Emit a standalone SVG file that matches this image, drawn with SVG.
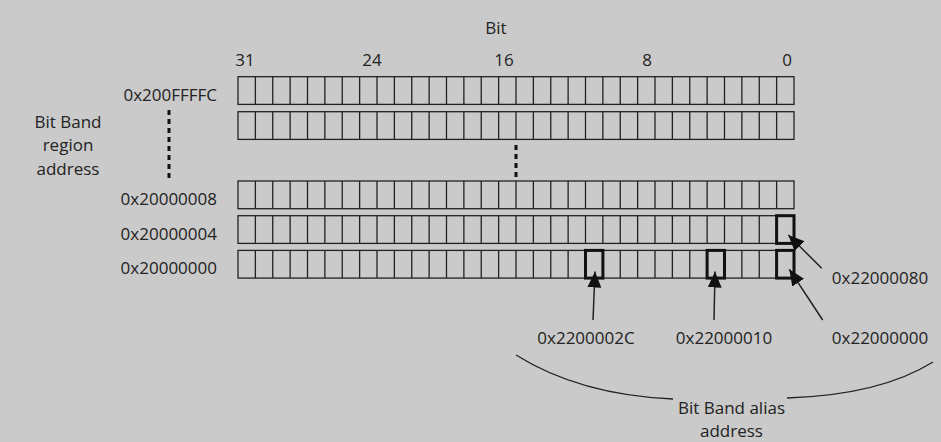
<svg xmlns="http://www.w3.org/2000/svg" xmlns:xlink="http://www.w3.org/1999/xlink" width="941" height="442" viewBox="0 0 941 442">
<style>
text{font-family:"Open Sans","Liberation Sans",sans-serif;font-size:17px;fill:#222}
.cell{fill:none;stroke:#222;stroke-width:1.3}
.hl{fill:none;stroke:#111;stroke-width:3}
.dots{stroke:#111;stroke-width:3;stroke-dasharray:5 4;fill:none}
.arr{stroke:#222;stroke-width:1.5;fill:none;marker-end:url(#ah)}
.brace{stroke:#222;stroke-width:1.3;fill:none}
</style>
<defs>
<marker id="ah" markerUnits="userSpaceOnUse" markerWidth="17" markerHeight="15" refX="16" refY="7" orient="auto">
<path d="M0,0 L16,7 L0,14 z" fill="#111"/>
</marker>
<g id="row">
<rect class="cell" x="0" y="0" width="556" height="27.7"/>
<path class="cell" d="M17.375,0v27.7M34.75,0v27.7M52.125,0v27.7M69.5,0v27.7M86.875,0v27.7M104.25,0v27.7M121.625,0v27.7M139,0v27.7M156.375,0v27.7M173.75,0v27.7M191.125,0v27.7M208.5,0v27.7M225.875,0v27.7M243.25,0v27.7M260.625,0v27.7M278,0v27.7M295.375,0v27.7M312.75,0v27.7M330.125,0v27.7M347.5,0v27.7M364.875,0v27.7M382.25,0v27.7M399.625,0v27.7M417,0v27.7M434.375,0v27.7M451.75,0v27.7M469.125,0v27.7M486.5,0v27.7M503.875,0v27.7M521.25,0v27.7M538.625,0v27.7"/>
</g>
</defs>
<rect x="0" y="0" width="941" height="442" fill="#cacaca"/>

<g id="bit-axis">
<text x="496" y="34" text-anchor="middle">Bit</text>
<text x="245" y="66" text-anchor="middle">31</text>
<text x="372" y="66" text-anchor="middle">24</text>
<text x="504" y="66" text-anchor="middle">16</text>
<text x="647" y="66" text-anchor="middle">8</text>
<text x="787" y="66" text-anchor="middle">0</text>
</g>

<g id="region-label">
<text x="68" y="128" text-anchor="middle">Bit Band</text>
<text x="68" y="151" text-anchor="middle">region</text>
<text x="68" y="175" text-anchor="middle">address</text>
<path class="dots" d="M169,110 V178"/>
<path class="dots" d="M516,145 V177"/>
</g>

<g id="row-200FFFFC">
<text x="217" y="100.5" text-anchor="end">0x200FFFFC</text>
<use xlink:href="#row" x="238" y="76.7"/>
</g>
<g id="row-200FFFF8">
<use xlink:href="#row" x="238" y="111.7"/>
</g>
<g id="row-20000008">
<text x="217" y="205" text-anchor="end">0x20000008</text>
<use xlink:href="#row" x="238" y="181"/>
</g>
<g id="row-20000004">
<text x="217" y="239.5" text-anchor="end">0x20000004</text>
<use xlink:href="#row" x="238" y="215.7"/>
<rect class="hl" x="776.6" y="215.7" width="17.4" height="27.7"/>
</g>
<g id="row-20000000">
<text x="217" y="273.5" text-anchor="end">0x20000000</text>
<use xlink:href="#row" x="238" y="250.4"/>
<rect class="hl" x="585.5" y="250.4" width="17.4" height="27.7"/>
<rect class="hl" x="707.1" y="250.4" width="17.4" height="27.7"/>
<rect class="hl" x="776.6" y="250.4" width="17.4" height="27.7"/>
</g>

<g id="alias-labels">
<text x="880" y="284" text-anchor="middle">0x22000080</text>
<text x="586" y="343.5" text-anchor="middle">0x2200002C</text>
<text x="724" y="343.5" text-anchor="middle">0x22000010</text>
<text x="880" y="343.5" text-anchor="middle">0x22000000</text>
<text x="731.5" y="414" text-anchor="middle">Bit Band alias</text>
<text x="731.5" y="437" text-anchor="middle">address</text>
</g>

<g id="connectors">
<path class="arr" d="M593,320 L595,271.5"/>
<path class="arr" d="M714,320 L715,271.5"/>
<path class="arr" d="M821.7,268.3 L788.3,235"/>
<path class="arr" d="M822.7,320 L789.3,269.3"/>
<path class="brace" d="M516,355 Q580,395 673,399"/>
<path class="brace" d="M787,398 Q880,395 933,362"/>
</g>
</svg>
